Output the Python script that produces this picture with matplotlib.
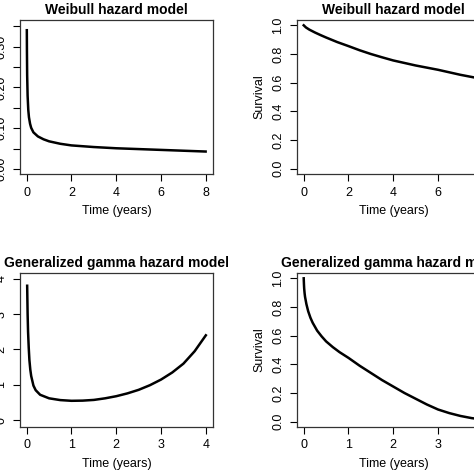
import numpy as np
import matplotlib.pyplot as plt

plt.rcParams['font.family'] = ['Liberation Sans', 'DejaVu Sans']

# Weibull model
wb_t = [0.005, 0.01, 0.02, 0.04, 0.07, 0.1, 0.15, 0.2, 0.3, 0.5, 0.75, 1, 1.5, 2, 3, 4, 5, 6, 7, 8]
wb_h = [0.34, 0.29, 0.23, 0.18, 0.145, 0.127, 0.111, 0.101, 0.09, 0.08, 0.073, 0.068,
        0.062, 0.058, 0.054, 0.051, 0.049, 0.047, 0.045, 0.043]
wb_st = [0, 0.1, 0.25, 0.5, 0.75, 1, 1.5, 2, 2.5, 3, 3.5, 4, 5, 6, 7, 8]
wb_s = [1.0, 0.985, 0.97, 0.95, 0.932, 0.915, 0.883, 0.855, 0.826, 0.80, 0.777, 0.755,
        0.72, 0.69, 0.655, 0.625]

# Generalized gamma model
gg_t = [0.01, 0.02, 0.03, 0.045, 0.06, 0.08, 0.1, 0.15, 0.2, 0.3, 0.5, 0.75, 1, 1.25, 1.5,
        1.75, 2, 2.25, 2.5, 2.75, 3, 3.25, 3.5, 3.75, 4]
gg_h = [3.8, 3.0, 2.5, 2.05, 1.7, 1.43, 1.25, 0.98, 0.85, 0.72, 0.62, 0.57, 0.55, 0.555, 0.575,
        0.62, 0.68, 0.76, 0.86, 0.99, 1.15, 1.35, 1.6, 1.95, 2.4]
gg_st = [0, 0.005, 0.01, 0.02, 0.03, 0.06, 0.1, 0.15, 0.2, 0.3, 0.4, 0.5, 0.65, 0.8, 1,
         1.25, 1.5, 1.75, 2, 2.25, 2.5, 2.75, 3, 3.25, 3.5, 3.75, 4]
gg_s = [1.0, 0.96, 0.93, 0.895, 0.87, 0.82, 0.77, 0.725, 0.69, 0.635, 0.595, 0.56, 0.52,
        0.485, 0.445, 0.39, 0.34, 0.29, 0.245, 0.2, 0.16, 0.12, 0.085, 0.06, 0.04, 0.025, 0.015]

fig = plt.figure(figsize=(4.74, 4.74), dpi=100)
W = 193 / 474
H = 154 / 474
positions = [(20 / 474, 300 / 474), (297 / 474, 300 / 474),
             (20 / 474, 47 / 474), (297 / 474, 47 / 474)]
axes = [fig.add_axes([x, y, W, H]) for x, y in positions]

panels = [
    (wb_t, wb_h, 'Weibull hazard model', (-0.3, 8.33), (-0.012, 0.365),
     np.arange(0, 9, 2), np.arange(0, 0.36, 0.05), None),
    (wb_st, wb_s, 'Weibull hazard model', (-0.3, 8.33), (-0.037, 1.037),
     np.arange(0, 9, 2), np.arange(0, 1.01, 0.2), 'Survival'),
    (gg_t, gg_h, 'Generalized gamma hazard model', (-0.15, 4.16), (-0.19, 4.16),
     np.arange(0, 5), np.arange(0, 5), None),
    (gg_st, gg_s, 'Generalized gamma hazard model', (-0.15, 4.16), (-0.037, 1.037),
     np.arange(0, 5), np.arange(0, 1.01, 0.2), 'Survival'),
]

for i, (ax, (t, y, title, xl, yl, xt, yt, ylab)) in enumerate(zip(axes, panels)):
    ax.plot(t, y, color='black', lw=1.8)
    ax.set_xlim(*xl)
    ax.set_ylim(*yl)
    ax.set_xticks(xt)
    ax.set_yticks(yt)
    if i == 0:
        ax.set_yticklabels(['0.00', '', '0.10', '', '0.20', '', '0.30', ''])
    elif i == 2:
        ax.set_yticklabels([str(v) for v in yt])
    else:
        ax.set_yticklabels([f'{v:.1f}' for v in yt])
    ax.set_xticklabels([str(v) for v in xt])
    for lab in ax.get_yticklabels():
        lab.set_rotation(90)
        lab.set_va('center')
    ax.tick_params(direction='out', length=5, width=0.8, labelsize=9, pad=4)
    for s in ax.spines.values():
        s.set_linewidth(0.9)
        s.set_color('#333333')
    ax.set_title(title, fontsize=10, fontweight='bold', pad=4)
    ax.set_xlabel('Time (years)', fontsize=9, labelpad=5)
    if ylab:
        ax.set_ylabel(ylab, fontsize=9, labelpad=5)

fig.savefig('out.png', dpi=100)
